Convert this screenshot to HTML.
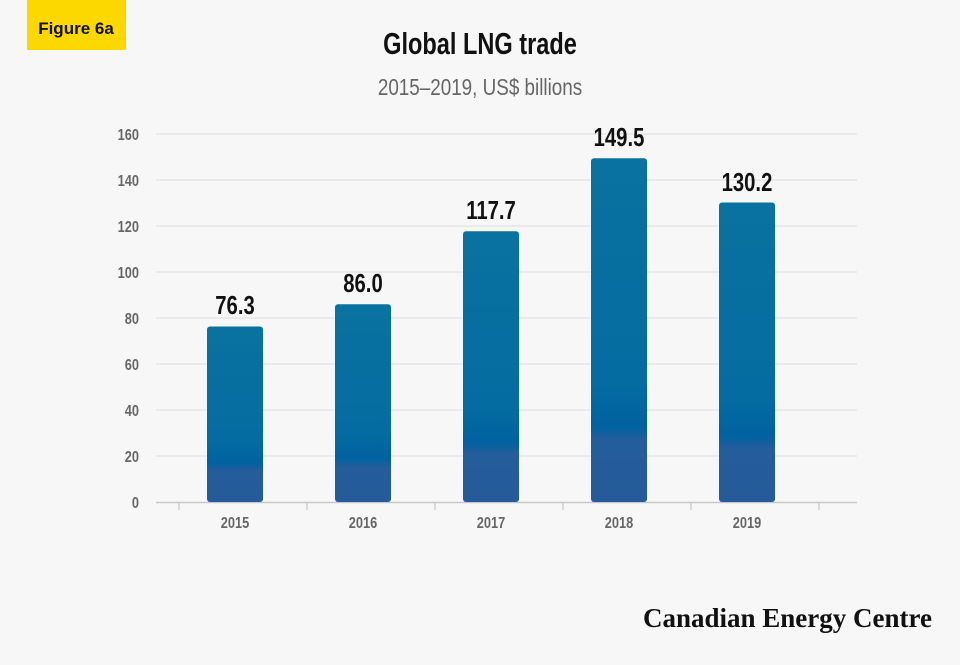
<!DOCTYPE html>
<html><head><meta charset="utf-8"><style>
body{margin:0;background:#f7f7f7;}
svg text{font-family:"Liberation Sans",sans-serif;}
</style></head><body>
<svg width="960" height="660" viewBox="0 0 960 660" xmlns="http://www.w3.org/2000/svg">
<defs>
<linearGradient id="g" x1="0" y1="0" x2="0" y2="1">
<stop offset="0" stop-color="#0a72a0"/>
<stop offset="0.65" stop-color="#046ca0"/>
<stop offset="0.78" stop-color="#0062a0"/>
<stop offset="0.82" stop-color="#235d9c"/>
<stop offset="1" stop-color="#255b9a"/>
</linearGradient>
</defs>
<rect width="960" height="660" fill="#f7f7f7"/>
<rect x="27" y="0" width="99" height="50" fill="#fdd800"/>
<text x="76" y="34" text-anchor="middle" font-size="17" font-weight="bold" fill="#111">Figure 6a</text>
<text x="480" y="54" text-anchor="middle" font-size="31" font-weight="bold" fill="#111" transform="translate(480 0) scale(0.76 1) translate(-480 0)">Global LNG trade</text>
<text x="480" y="95" text-anchor="middle" font-size="23" fill="#666" transform="translate(480 0) scale(0.82 1) translate(-480 0)">2015–2019, US$ billions</text>
<g stroke="#dcdcdc" stroke-width="1">
<line x1="156" y1="134" x2="857" y2="134"/><line x1="156" y1="180" x2="857" y2="180"/>
<line x1="156" y1="226" x2="857" y2="226"/><line x1="156" y1="272" x2="857" y2="272"/>
<line x1="156" y1="318" x2="857" y2="318"/><line x1="156" y1="364" x2="857" y2="364"/>
<line x1="156" y1="410" x2="857" y2="410"/><line x1="156" y1="456" x2="857" y2="456"/>
</g>
<line x1="156" y1="502.5" x2="857" y2="502.5" stroke="#c8c8c8" stroke-width="1.5"/>
<g stroke="#c8c8c8" stroke-width="1.2">
<line x1="179" y1="502" x2="179" y2="510"/><line x1="307" y1="502" x2="307" y2="510"/>
<line x1="435" y1="502" x2="435" y2="510"/><line x1="563" y1="502" x2="563" y2="510"/>
<line x1="691" y1="502" x2="691" y2="510"/><line x1="819" y1="502" x2="819" y2="510"/>
</g>
<g font-size="16" font-weight="bold" fill="#666" text-anchor="end" transform="translate(139 0) scale(0.8 1) translate(-139 0)">
<text x="139" y="140">160</text><text x="139" y="186">140</text><text x="139" y="232">120</text>
<text x="139" y="278">100</text><text x="139" y="324">80</text><text x="139" y="370">60</text>
<text x="139" y="416">40</text><text x="139" y="462">20</text><text x="139" y="508">0</text>
</g>
<g fill="url(#g)">
<rect x="207" y="326.5" width="56" height="175.5" rx="3"/>
<rect x="335" y="304.2" width="56" height="197.8" rx="3"/>
<rect x="463" y="231.3" width="56" height="270.7" rx="3"/>
<rect x="591" y="158.2" width="56" height="343.8" rx="3"/>
<rect x="719" y="202.5" width="56" height="299.5" rx="3"/>
</g>
<g font-size="26" font-weight="bold" fill="#111" text-anchor="middle">
<text x="235" y="314" transform="translate(235 0) scale(0.78 1) translate(-235 0)">76.3</text>
<text x="363" y="292" transform="translate(363 0) scale(0.78 1) translate(-363 0)">86.0</text>
<text x="491" y="219" transform="translate(491 0) scale(0.78 1) translate(-491 0)">117.7</text>
<text x="619" y="146" transform="translate(619 0) scale(0.78 1) translate(-619 0)">149.5</text>
<text x="747" y="191" transform="translate(747 0) scale(0.78 1) translate(-747 0)">130.2</text>
</g>
<g font-size="16" font-weight="bold" fill="#666" text-anchor="middle">
<text x="235" y="528" transform="translate(235 0) scale(0.8 1) translate(-235 0)">2015</text>
<text x="363" y="528" transform="translate(363 0) scale(0.8 1) translate(-363 0)">2016</text>
<text x="491" y="528" transform="translate(491 0) scale(0.8 1) translate(-491 0)">2017</text>
<text x="619" y="528" transform="translate(619 0) scale(0.8 1) translate(-619 0)">2018</text>
<text x="747" y="528" transform="translate(747 0) scale(0.8 1) translate(-747 0)">2019</text>
</g>
<text x="932" y="627" text-anchor="end" font-size="27" font-weight="bold" fill="#111" style="font-family:'Liberation Serif',serif">Canadian Energy Centre</text>
</svg>
</body></html>
